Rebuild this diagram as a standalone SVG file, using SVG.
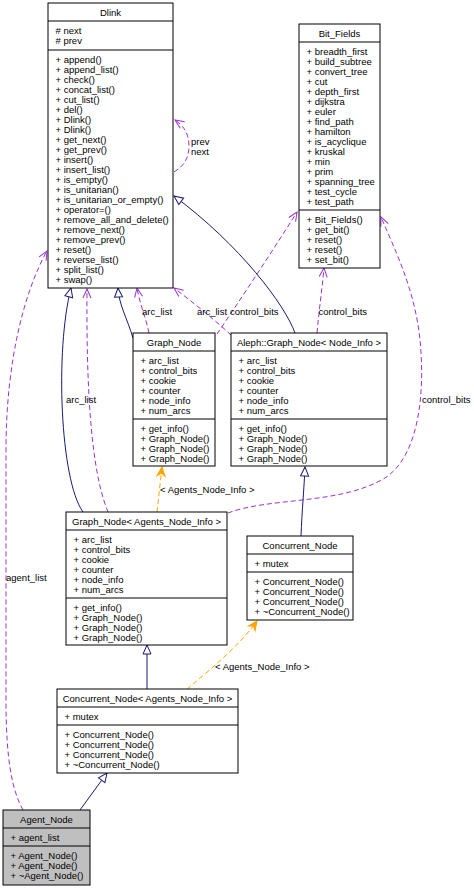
<svg xmlns="http://www.w3.org/2000/svg" width="474" height="888" viewBox="0 0 474 888">
<style>
.box{fill:#fff;stroke:#000;stroke-width:1}
.gray{fill:#bfbfbf}
.sep{stroke:#000;stroke-width:1}
text{font-family:"Liberation Sans",Arial,Helvetica,sans-serif;font-size:9.5px;fill:#000}
.t{text-anchor:middle}
.inh{fill:none;stroke:#191970;stroke-width:1;marker-end:url(#tri)}
.use{fill:none;stroke:#9a32cd;stroke-width:1;stroke-dasharray:5,3;marker-end:url(#vee)}
.tpl{fill:none;stroke:#ffa500;stroke-width:1;stroke-dasharray:5,3;marker-end:url(#ovee)}
</style>
<defs>
<marker id="tri" markerWidth="12" markerHeight="10" refX="9" refY="4" orient="auto" markerUnits="userSpaceOnUse" overflow="visible"><path d="M0,0 L9,4 L0,8 Z" fill="#fff" stroke="#191970" stroke-width="1"/></marker>
<marker id="vee" markerWidth="12" markerHeight="10" refX="9" refY="4" orient="auto" markerUnits="userSpaceOnUse" overflow="visible"><path d="M0,0 L9,4 L0,8" fill="none" stroke="#9a32cd" stroke-width="1"/></marker>
<marker id="ovee" markerWidth="12" markerHeight="10" refX="9" refY="4" orient="auto" markerUnits="userSpaceOnUse" overflow="visible"><path d="M0,0 L9,4 L0,8 L3,4 Z" fill="#ffa500" stroke="#ffa500" stroke-width="1"/></marker>
</defs>

<g id="connectors">
<path class="inh" d="M133,338 C127,318 119,305 118,288"/>
<path class="use" d="M149,333 C146,318 140,305 137,288"/>
<path class="use" d="M231,335 C215,320 190,300 174,288"/>
<path class="use" d="M217,334 C240,300 270,255 297,212"/>
<path class="inh" d="M295,333 C285,305 240,245 174,196"/>
<path class="use" d="M317,333 C319,310 322,290 324,268"/>
<path class="use" d="M174,172 C184,166 189,158 189,146 C189,134 184,126 175,120"/>
<path class="inh" d="M83,512 C60,480 55,350 71,288"/>
<path class="use" d="M108,512 C95,480 86,420 87,289"/>
<path class="tpl" d="M157,512 L162,467"/>
<path class="use" d="M228,513 C270,497 340,505 385,478 C420,455 425,390 420,340 C415,290 395,250 381,217"/>
<path class="inh" d="M301,536 C302,510 304,490 305,467"/>
<path class="inh" d="M147,689 L147,645"/>
<path class="tpl" d="M187,689 C210,670 240,645 257,621"/>
<path class="inh" d="M80,810 L107,773"/>
<path class="use" d="M23,810 C12,790 6,760 6,700 L6,450 C6,360 25,290 47,251"/>
<text x="191" y="145">prev</text>
<text x="191" y="155">next</text>
<text x="142" y="315">arc_list</text>
<text x="197" y="315">arc_list</text>
<text x="230" y="315">control_bits</text>
<text x="318.5" y="315">control_bits</text>
<text x="66" y="403">arc_list</text>
<text x="160" y="493">&lt; Agents_Node_Info &gt;</text>
<text x="422" y="403">control_bits</text>
<text x="215" y="670">&lt; Agents_Node_Info &gt;</text>
<text x="6" y="581">agent_list</text>
</g>

<g id="Dlink">
<rect class="box" x="48" y="3" width="125" height="285"/>
<line class="sep" x1="48" y1="21" x2="173" y2="21"/>
<line class="sep" x1="48" y1="50" x2="173" y2="50"/>
<text class="t" x="110.5" y="16">Dlink</text>
<text><tspan x="55.5" y="34"># next</tspan><tspan x="55.5" y="44"># prev</tspan></text>
<text><tspan x="55.5" y="63">+ append()</tspan><tspan x="55.5" y="73">+ append_list()</tspan><tspan x="55.5" y="83">+ check()</tspan><tspan x="55.5" y="93">+ concat_list()</tspan><tspan x="55.5" y="103">+ cut_list()</tspan><tspan x="55.5" y="113">+ del()</tspan><tspan x="55.5" y="123">+ Dlink()</tspan><tspan x="55.5" y="133">+ Dlink()</tspan><tspan x="55.5" y="143">+ get_next()</tspan><tspan x="55.5" y="153">+ get_prev()</tspan><tspan x="55.5" y="163">+ insert()</tspan><tspan x="55.5" y="173">+ insert_list()</tspan><tspan x="55.5" y="183">+ is_empty()</tspan><tspan x="55.5" y="193">+ is_unitarian()</tspan><tspan x="55.5" y="203">+ is_unitarian_or_empty()</tspan><tspan x="55.5" y="213">+ operator=()</tspan><tspan x="55.5" y="223">+ remove_all_and_delete()</tspan><tspan x="55.5" y="233">+ remove_next()</tspan><tspan x="55.5" y="243">+ remove_prev()</tspan><tspan x="55.5" y="253">+ reset()</tspan><tspan x="55.5" y="263">+ reverse_list()</tspan><tspan x="55.5" y="273">+ split_list()</tspan><tspan x="55.5" y="283">+ swap()</tspan></text>
</g>

<g id="Bit_Fields">
<rect class="box" x="299" y="24" width="81" height="244"/>
<line class="sep" x1="299" y1="42" x2="380" y2="42"/>
<line class="sep" x1="299" y1="210" x2="380" y2="210"/>
<text class="t" x="339.5" y="37">Bit_Fields</text>
<text><tspan x="306.5" y="55">+ breadth_first</tspan><tspan x="306.5" y="65">+ build_subtree</tspan><tspan x="306.5" y="75">+ convert_tree</tspan><tspan x="306.5" y="85">+ cut</tspan><tspan x="306.5" y="95">+ depth_first</tspan><tspan x="306.5" y="105">+ dijkstra</tspan><tspan x="306.5" y="115">+ euler</tspan><tspan x="306.5" y="125">+ find_path</tspan><tspan x="306.5" y="135">+ hamilton</tspan><tspan x="306.5" y="145">+ is_acyclique</tspan><tspan x="306.5" y="155">+ kruskal</tspan><tspan x="306.5" y="165">+ min</tspan><tspan x="306.5" y="175">+ prim</tspan><tspan x="306.5" y="185">+ spanning_tree</tspan><tspan x="306.5" y="195">+ test_cycle</tspan><tspan x="306.5" y="205">+ test_path</tspan></text>
<text><tspan x="306.5" y="223">+ Bit_Fields()</tspan><tspan x="306.5" y="233">+ get_bit()</tspan><tspan x="306.5" y="243">+ reset()</tspan><tspan x="306.5" y="253">+ reset()</tspan><tspan x="306.5" y="263">+ set_bit()</tspan></text>
</g>

<g id="Graph_Node">
<rect class="box" x="133" y="333" width="82" height="133"/>
<line class="sep" x1="133" y1="351" x2="215" y2="351"/>
<line class="sep" x1="133" y1="419" x2="215" y2="419"/>
<text class="t" x="174" y="346">Graph_Node</text>
<text><tspan x="140.5" y="364">+ arc_list</tspan><tspan x="140.5" y="374">+ control_bits</tspan><tspan x="140.5" y="384">+ cookie</tspan><tspan x="140.5" y="394">+ counter</tspan><tspan x="140.5" y="404">+ node_info</tspan><tspan x="140.5" y="414">+ num_arcs</tspan></text>
<text><tspan x="140.5" y="432">+ get_info()</tspan><tspan x="140.5" y="442">+ Graph_Node()</tspan><tspan x="140.5" y="452">+ Graph_Node()</tspan><tspan x="140.5" y="462">+ Graph_Node()</tspan></text>
</g>

<g id="Aleph_Graph_Node">
<rect class="box" x="231" y="333" width="156" height="133"/>
<line class="sep" x1="231" y1="351" x2="387" y2="351"/>
<line class="sep" x1="231" y1="419" x2="387" y2="419"/>
<text class="t" x="309" y="346">Aleph::Graph_Node&lt; Node_Info &gt;</text>
<text><tspan x="238.5" y="364">+ arc_list</tspan><tspan x="238.5" y="374">+ control_bits</tspan><tspan x="238.5" y="384">+ cookie</tspan><tspan x="238.5" y="394">+ counter</tspan><tspan x="238.5" y="404">+ node_info</tspan><tspan x="238.5" y="414">+ num_arcs</tspan></text>
<text><tspan x="238.5" y="432">+ get_info()</tspan><tspan x="238.5" y="442">+ Graph_Node()</tspan><tspan x="238.5" y="452">+ Graph_Node()</tspan><tspan x="238.5" y="462">+ Graph_Node()</tspan></text>
</g>

<g id="Graph_Node_Agents">
<rect class="box" x="66" y="512" width="161" height="133"/>
<line class="sep" x1="66" y1="530" x2="227" y2="530"/>
<line class="sep" x1="66" y1="598" x2="227" y2="598"/>
<text class="t" x="146.5" y="525">Graph_Node&lt; Agents_Node_Info &gt;</text>
<text><tspan x="73.5" y="543">+ arc_list</tspan><tspan x="73.5" y="553">+ control_bits</tspan><tspan x="73.5" y="563">+ cookie</tspan><tspan x="73.5" y="573">+ counter</tspan><tspan x="73.5" y="583">+ node_info</tspan><tspan x="73.5" y="593">+ num_arcs</tspan></text>
<text><tspan x="73.5" y="611">+ get_info()</tspan><tspan x="73.5" y="621">+ Graph_Node()</tspan><tspan x="73.5" y="631">+ Graph_Node()</tspan><tspan x="73.5" y="641">+ Graph_Node()</tspan></text>
</g>

<g id="Concurrent_Node">
<rect class="box" x="247" y="536" width="106" height="84"/>
<line class="sep" x1="247" y1="554" x2="353" y2="554"/>
<line class="sep" x1="247" y1="572" x2="353" y2="572"/>
<text class="t" x="300" y="549">Concurrent_Node</text>
<text x="254.5" y="567">+ mutex</text>
<text><tspan x="254.5" y="585">+ Concurrent_Node()</tspan><tspan x="254.5" y="595">+ Concurrent_Node()</tspan><tspan x="254.5" y="605">+ Concurrent_Node()</tspan><tspan x="254.5" y="615">+ ~Concurrent_Node()</tspan></text>
</g>

<g id="Concurrent_Node_Agents">
<rect class="box" x="57" y="689" width="181" height="84"/>
<line class="sep" x1="57" y1="707" x2="238" y2="707"/>
<line class="sep" x1="57" y1="725" x2="238" y2="725"/>
<text class="t" x="147.5" y="702">Concurrent_Node&lt; Agents_Node_Info &gt;</text>
<text x="64.5" y="720">+ mutex</text>
<text><tspan x="64.5" y="738">+ Concurrent_Node()</tspan><tspan x="64.5" y="748">+ Concurrent_Node()</tspan><tspan x="64.5" y="758">+ Concurrent_Node()</tspan><tspan x="64.5" y="768">+ ~Concurrent_Node()</tspan></text>
</g>

<g id="Agent_Node">
<rect class="box gray" x="3" y="810" width="87" height="75"/>
<line class="sep" x1="3" y1="828" x2="90" y2="828"/>
<line class="sep" x1="3" y1="846" x2="90" y2="846"/>
<text class="t" x="46.5" y="823">Agent_Node</text>
<text x="10.5" y="841">+ agent_list</text>
<text><tspan x="10.5" y="859">+ Agent_Node()</tspan><tspan x="10.5" y="869">+ Agent_Node()</tspan><tspan x="10.5" y="879">+ ~Agent_Node()</tspan></text>
</g>
</svg>
